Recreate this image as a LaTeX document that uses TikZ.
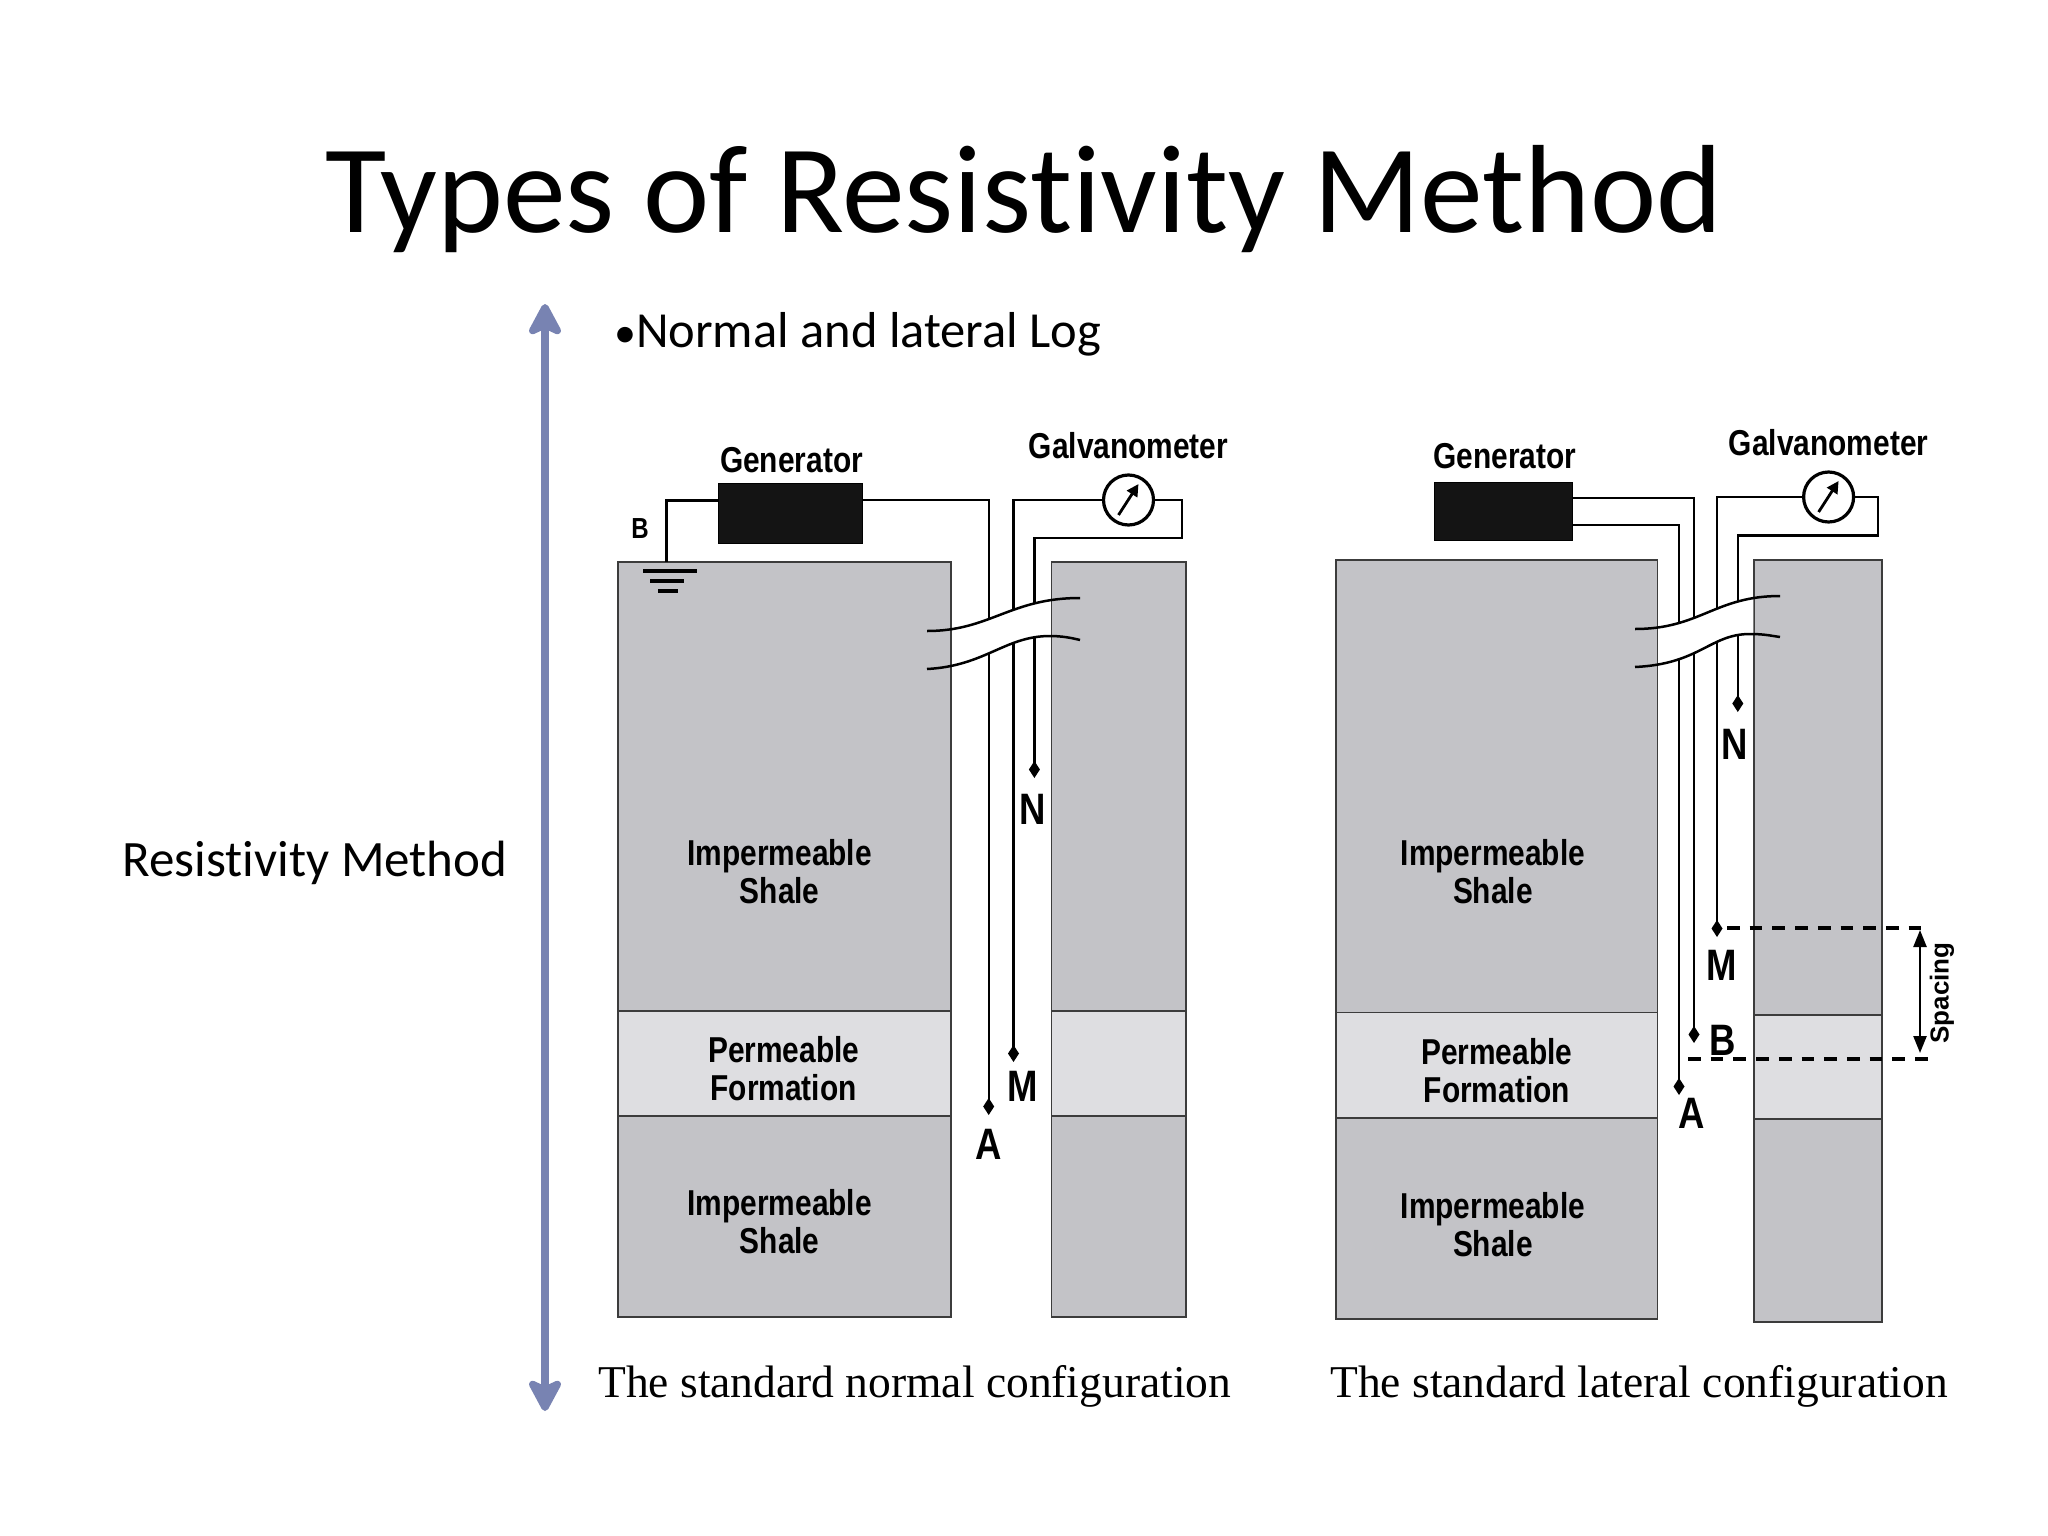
\documentclass[tikz,border=0pt]{standalone}
\usepackage{fontspec}
\setmainfont{Carlito}[Ligatures=NoCommon]
\newfontfamily\capfont{Liberation Serif}
\newfontfamily\labfont[FakeStretch=0.83]{Liberation Sans}
\newfontfamily\spfont{Liberation Sans}
\usetikzlibrary{arrows.meta,shapes.geometric}
\definecolor{colg}{RGB}{195,195,199}
\definecolor{perm}{RGB}{222,222,225}
\definecolor{edgec}{RGB}{60,60,60}
\definecolor{arrowc}{RGB}{120,131,178}
\begin{document}
\begin{tikzpicture}[x=1pt,y=-1pt,
  layer/.style={draw=edgec, line width=1.8pt},
  shale/.style={layer, fill=colg},
  permz/.style={layer, fill=perm},
  wire/.style={draw=black, line width=2.2pt},
  probe/.style={wire, -{Diamond[length=17pt,width=11pt]}},
  genbox/.style={fill=black!92, draw=black, inner sep=0pt},
  lbl/.style={font=\labfont\bfseries\fontsize{36}{38}\selectfont, align=center, inner sep=0pt},
  elec/.style={font=\labfont\bfseries\fontsize{44}{44}\selectfont, inner sep=0pt},
  gauge/.style={circle, draw=black, line width=3.2pt, fill=white, minimum size=50pt, inner sep=0pt},
  brk/.style={draw=black, line width=2.5pt},
  dashline/.style={draw=black, line width=3.3pt, dash pattern=on 12.7pt off 10pt},
  capt/.style={font=\capfont\fontsize{45.5}{45.5}\selectfont, inner sep=0pt, anchor=base west}
]
\useasboundingbox (0,0) rectangle (2048,1536);
\fill[white] (0,0) rectangle (2048,1536);

% title and texts
\node[anchor=base, inner sep=0pt, font=\fontsize{125.5}{125.5}\selectfont] (title) at (1024,232) {Types of Resistivity Method};
\node[anchor=base west, inner sep=0pt, font=\fontsize{50.5}{50.5}\selectfont] (bul) at (614,347) {{\fontsize{44}{44}\selectfont •}Normal and lateral Log};
\node[inner sep=0pt, font=\fontsize{51}{51}\selectfont] (rm) at (315,863) {Resistivity Method};

% big double arrow
\coordinate (atop) at (545,304);
\coordinate (abot) at (545,1411);
\draw[arrowc, line width=8pt, {Stealth[length=38pt,width=40pt,inset=9pt,round]}-{Stealth[length=38pt,width=40pt,inset=9pt,round]}] (atop) -- (abot);

% ================= LEFT: normal configuration =================
\draw[shale] (617.8,561.6) rectangle (950.9,1011);
\draw[permz] (617.8,1011) rectangle (950.9,1116);
\draw[shale] (617.8,1116) rectangle (950.9,1316.6);
\draw[shale] (1051.4,561.6) rectangle (1186,1011);
\draw[permz] (1051.4,1011) rectangle (1186,1116);
\draw[shale] (1051.4,1116) rectangle (1186,1316.6);

\node[lbl] (ls1) at (779.7,871.8) {Impermeable\\Shale};
\node[lbl] (lp) at (783.7,1069) {Permeable\\Formation};
\node[lbl] (ls2) at (779.7,1221.7) {Impermeable\\Shale};

\node[genbox, minimum width=143.6pt, minimum height=60pt] (genL) at (790.2,513.3) {};
\node[lbl] (genLt) at (791.5,459.8) {Generator};

\coordinate (gndL) at (666.1,561.6);
\coordinate (bL) at (718.4,500.2);
\draw[wire, line width=3pt] (gndL) |- (bL);
\draw[line width=4.5pt] (643,571) -- (697,571);
\draw[line width=4.5pt] (650,581) -- (684,581);
\draw[line width=4.5pt] (658,591) -- (678,591);
\node[font=\labfont\bfseries\fontsize{29}{29}\selectfont, inner sep=0pt] (bLt) at (640,529) {B};

\coordinate (gRL) at (862,500.2);
\coordinate (aL) at (988.7,1115);
\draw[probe] (gRL) -| (aL);
\node[elec] (aLt) at (988.7,1144) {A};

\node[gauge] (galL) at (1128.5,500) {};
\draw[line width=2.8pt, -{Triangle[length=12pt,width=12pt]}] ([shift={(-10,15)}]galL.center) -- ([shift={(10,-16)}]galL.center);
\node[lbl] (galLt) at (1128.5,445.4) {Galvanometer};

\coordinate (mL) at (1013.5,1062);
\draw[probe] (galL.west) -| (mL);
\node[elec] (mLt) at (1022.7,1086.7) {M};

\coordinate (cL) at (1182,538);
\coordinate (nL) at (1034.4,778);
\draw[probe] (galL.east) -| (cL) -| (nL);
\node[elec] (nLt) at (1033,809.8) {N};

\begin{scope}
\clip (952,0) rectangle (1050.5,1536);
\fill[white] (927,631) .. controls (990,631) and (1010,598) .. (1080,598) -- (1080,640) .. controls (1072,638) and (1062,636) .. (1050,636) .. controls (1005,636) and (985,666) .. (927,669) -- cycle;
\end{scope}
\draw[brk] (927,631) .. controls (990,631) and (1010,598) .. (1080,598);
\draw[brk] (927,669) .. controls (985,666) and (1005,636) .. (1050,636) .. controls (1062,636) and (1072,638) .. (1080,640);

% ================= RIGHT: lateral configuration =================
\draw[shale] (1336.2,560.3) rectangle (1657.5,1012.5);
\draw[permz] (1336.2,1012.5) rectangle (1657.5,1118);
\draw[shale] (1336.2,1118) rectangle (1657.5,1319.2);
\draw[shale] (1754.1,560.3) rectangle (1882.1,1015);
\draw[permz] (1754.1,1015) rectangle (1882.1,1119.3);
\draw[shale] (1754.1,1119.3) rectangle (1882.1,1321.8);

\node[lbl] (rs1) at (1492.9,871.8) {Impermeable\\Shale};
\node[lbl] (rp) at (1496.8,1070.4) {Permeable\\Formation};
\node[lbl] (rs2) at (1492.9,1224.4) {Impermeable\\Shale};

\node[genbox, minimum width=138.5pt, minimum height=58.7pt] (genR) at (1503.3,511.3) {};
\node[lbl] (genRt) at (1504.7,455.8) {Generator};

\coordinate (gR1) at (1572.6,497.6);
\coordinate (bR) at (1694,1043);
\draw[probe] (gR1) -| (bR);
\node[elec] (bRt) at (1723,1040) {B};

\coordinate (gR2) at (1572.6,525);
\coordinate (aR) at (1679,1095);
\draw[probe] (gR2) -| (aR);
\node[elec] (aRt) at (1692,1113) {A};

\node[gauge] (galR) at (1828.6,497) {};
\draw[line width=2.8pt, -{Triangle[length=12pt,width=12pt]}] ([shift={(-10,15)}]galR.center) -- ([shift={(10,-16)}]galR.center);
\node[lbl] (galRt) at (1828.6,442.8) {Galvanometer};

\coordinate (mR) at (1717,937);
\draw[probe] (galR.west) -| (mR);
\node[elec] (mRt) at (1722,965) {M};

\coordinate (cR) at (1878,535.5);
\coordinate (nR) at (1737.8,712);
\draw[probe] (galR.east) -| (cR) -| (nR);
\node[elec] (nRt) at (1734.5,744.5) {N};

\begin{scope}
\clip (1659,0) rectangle (1753.3,1536);
\fill[white] (1635,629) .. controls (1700,629) and (1715,596) .. (1780,596) -- (1780,637) .. controls (1772,636) and (1765,634) .. (1750,634) .. controls (1710,634) and (1700,664) .. (1635,667) -- cycle;
\end{scope}
\draw[brk] (1635,629) .. controls (1700,629) and (1715,596) .. (1780,596);
\draw[brk] (1635,667) .. controls (1700,664) and (1710,634) .. (1750,634) .. controls (1765,634) and (1772,636) .. (1780,637);

% spacing
\coordinate (dm1) at (1727,928);
\coordinate (dm2) at (1925,928);
\coordinate (db1) at (1688,1059);
\coordinate (db2) at (1935,1059);
\draw[dashline] (dm1) -- (dm2);
\draw[dashline] (db1) -- (db2);
\coordinate (sp1) at (1920,930);
\coordinate (sp2) at (1920,1053);
\draw[line width=2.4pt, {Triangle[length=17pt,width=13pt]}-{Triangle[length=17pt,width=13pt]}] (sp1) -- (sp2);
\node[rotate=90, inner sep=0pt, font=\spfont\bfseries\fontsize{26}{26}\selectfont] (spt) at (1942,993) {Spacing};

% captions
\node[capt] (capL) at (598,1397) {The standard normal configuration};
\node[capt] (capR) at (1330,1397) {The standard lateral configuration};
\end{tikzpicture}
\end{document}
